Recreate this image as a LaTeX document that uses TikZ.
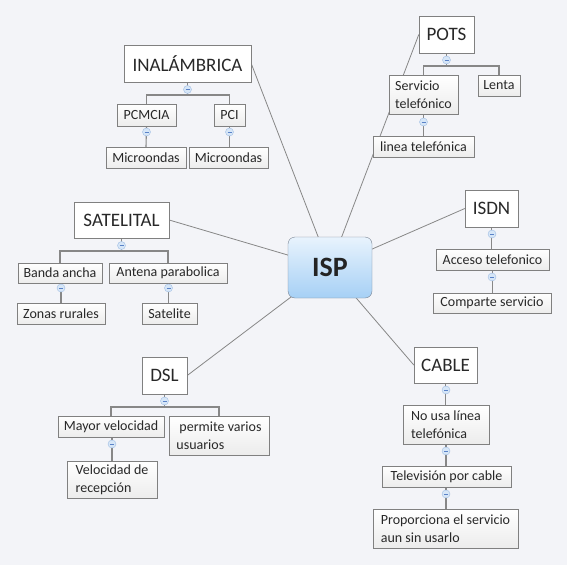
\documentclass[tikz,border=0pt]{standalone}
\usepackage{fontspec}
\setmainfont{Carlito}
\usetikzlibrary{backgrounds}
\definecolor{bgc}{RGB}{243,244,248}
\definecolor{boxgray}{RGB}{128,128,128}
\definecolor{txt}{RGB}{40,40,40}
\definecolor{subbot}{RGB}{236,236,236}
\definecolor{mnfill}{RGB}{214,230,247}
\definecolor{mnborder}{RGB}{160,190,228}
\definecolor{mnline}{RGB}{90,130,200}
\definecolor{linegray}{RGB}{135,135,135}
\definecolor{isptop}{RGB}{232,243,253}
\definecolor{ispbot}{RGB}{166,208,245}
\definecolor{ispborder}{RGB}{120,130,145}
\begin{document}
\begin{tikzpicture}[x=1pt,y=-1pt,
  title/.style={draw=boxgray, fill=white, inner sep=0pt, text=txt, font=\fontsize{19}{23}\selectfont},
  sub/.style={draw=boxgray, top color=white, bottom color=subbot, inner sep=0pt, text=txt, align=left, font=\fontsize{14}{17.7}\selectfont},
  center/.style={draw=ispborder, rounded corners=7pt, top color=isptop, bottom color=ispbot, inner sep=0pt, text=txt!90!black, font=\fontsize{28}{30}\selectfont\bfseries},
  mn/.style={circle, draw=mnborder, fill=mnfill, minimum size=8pt, inner sep=0pt,
    path picture={\draw[mnline, line width=0.6pt] ([xshift=-2pt]path picture bounding box.center) -- ([xshift=2pt]path picture bounding box.center);}},
  mainline/.style={draw=linegray, line width=0.8pt},
  br/.style={draw=linegray, line width=1.1pt},
  sz/.style 2 args={minimum width=#1pt, minimum height=#2pt}
]
\useasboundingbox (0,0) rectangle (567,565);

% central
\node[center, sz={84}{61}] (isp) at (330,267.5) {ISP};

% INALAMBRICA
\node[title, sz={127}{37}] (ina) at (187.5,63.5) {INALÁMBRICA};
\node[sub, sz={59}{22}] (pcm) at (146.5,115) {PCMCIA};
\node[sub, sz={31}{22}] (pci) at (229.5,115) {PCI};
\node[sub, sz={80}{21}] (mic1) at (146,157.5) {Microondas};
\node[sub, sz={79}{21}] (mic2) at (228.5,157.5) {Microondas};
\node[mn] (m1) at (187.5,89.5) {};
\node[mn] (m2) at (146.5,132) {};
\node[mn] (m3) at (229.5,132) {};
\coordinate (b1) at (187.5,95);

% POTS
\node[title, sz={55}{37}] (pots) at (446.5,34.5) {POTS};
\node[sub, sz={69}{39}] (serv) at (423.5,94.5) {Servicio\\telefónico};
\node[sub, sz={42}{21}] (lenta) at (499,85.5) {Lenta};
\node[sub, sz={101}{21}] (linea) at (423.5,146.5) {linea telefónica};
\node[mn] (m4) at (446.5,60) {};
\node[mn] (m5) at (423.5,122) {};
\coordinate (b2) at (446.5,66);

% ISDN
\node[title, sz={53}{37}] (isdn) at (491.5,208.5) {ISDN};
\node[sub, sz={113}{21}] (acc) at (492.5,259.5) {Acceso telefonico};
\node[sub, sz={118}{20}] (comp) at (492,303) {Comparte servicio};
\node[mn] (m6) at (492,234) {};
\node[mn] (m7) at (492,277) {};

% SATELITAL
\node[title, sz={95}{36}] (sat) at (121.5,220) {SATELITAL};
\node[sub, sz={84}{20}] (banda) at (60,273) {Banda ancha};
\node[sub, sz={118}{20}] (ante) at (168,273) {Antena parabolica};
\node[sub, sz={88}{21}] (zonas) at (61,313.5) {Zonas rurales};
\node[sub, sz={55}{21}] (satl) at (169.5,313.5) {Satelite};
\node[mn] (m8) at (121.5,245.5) {};
\node[mn] (m9) at (61,288) {};
\node[mn] (m10) at (168.5,288) {};
\coordinate (b3) at (121.5,251);

% DSL
\node[title, sz={45}{37}] (dsl) at (164.5,375.5) {DSL};
\node[sub, sz={106}{21}] (mayor) at (111,426.5) {Mayor velocidad};
\node[sub, sz={100}{39}] (perm) at (219,435.5) {\hspace{3pt}permite varios\\usuarios};
\node[sub, sz={90}{37}] (velo) at (112,479.5) {Velocidad de\\recepción};
\node[mn] (m11) at (164.5,401) {};
\node[mn] (m12) at (112,444) {};
\coordinate (b4) at (164.5,407);

% CABLE
\node[title, sz={63}{36}] (cable) at (445.5,365) {CABLE};
\node[sub, sz={86}{39}] (nousa) at (446,424.5) {No usa línea\\telefónica};
\node[sub, sz={129}{21}] (tele) at (446.5,476.5) {Televisión por cable};
\node[sub, sz={145}{39}] (prop) at (445.5,528.5) {Proporciona el servicio\\aun sin usarlo};
\node[mn] (m13) at (446,390) {};
\node[mn] (m14) at (446,451) {};
\node[mn] (m15) at (446,494) {};

\begin{pgfonlayer}{background}
\fill[bgc] (0,0) rectangle (567,565);
% main connectors
\draw[mainline] (isp.center) -- (ina.east);
\draw[mainline] (isp.center) -- (pots.west);
\draw[mainline] (isp.center) -- (isdn.west);
\draw[mainline] (isp.center) -- (sat.east);
\draw[mainline] (isp.center) -- (dsl.east);
\draw[mainline] (isp.center) -- (cable.west);
% INALAMBRICA tree
\draw[br] (ina.south) -- (b1);
\draw[br] (pcm.north) |- (b1) -| (pci.north);
\draw[br] (pcm.south) -- (mic1.north);
\draw[br] (pci.south) -- (mic2.north -| pci.south);
% POTS tree
\draw[br] (pots.south) -- (b2);
\draw[br] (serv.north) |- (b2) -| (lenta.north);
\draw[br] (serv.south) -- (linea.north);
% ISDN tree
\draw[br] (isdn.south) -- (acc.north -| isdn.south);
\draw[br] (acc.south) -- (comp.north -| acc.south);
% SATELITAL tree
\draw[br] (sat.south) -- (b3);
\draw[br] (banda.north) |- (b3) -| (ante.north);
\draw[br] (m9) -- (banda.south -| m9);
\draw[br] (m9) -- (zonas.north -| m9);
\draw[br] (m10) -- (ante.south -| m10);
\draw[br] (m10) -- (satl.north -| m10);
% DSL tree
\draw[br] (dsl.south) -- (b4);
\draw[br] (mayor.north) |- (b4) -| (perm.north);
\draw[br] (m12) -- (mayor.south -| m12);
\draw[br] (m12) -- (velo.north -| m12);
% CABLE tree
\draw[br] (cable.south) -- (nousa.north -| cable.south);
\draw[br] (nousa.south) -- (tele.north -| nousa.south);
\draw[br] (m15) -- (tele.south -| m15);
\draw[br] (m15) -- (prop.north -| m15);
\end{pgfonlayer}
\end{tikzpicture}
\end{document}
